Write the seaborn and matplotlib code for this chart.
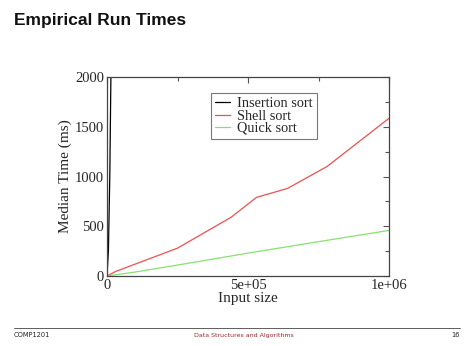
import matplotlib
matplotlib.use("Agg")
import matplotlib.pyplot as plt
from matplotlib.ticker import MultipleLocator, FixedLocator
import numpy as np
import pandas as pd
import seaborn as sns

# Median run times (ms) against input size for three sorting algorithms
insertion_n = [0, 5000, 10000, 15000, 20000]
insertion_ms = [0, 255, 1020, 2300, 4080]

shell_n = [0, 30000, 250000, 440000, 530000, 640000, 780000, 1000000]
shell_ms = [0, 45, 280, 590, 790, 880, 1100, 1585]

quick_n = [0, 100000, 250000, 500000, 750000, 1000000]
quick_ms = [0, 40, 110, 230, 345, 458]

series_names = ["Insertion sort", "Shell sort", "Quick sort"]
series_colors = ["#000000", "#ee5050", "#88e070"]

x_ticks = [0, 500000, 1000000]
x_tick_labels = ["0", "5e+05", "1e+06"]
y_ticks = [0, 500, 1000, 1500, 2000]

frames = []
for name, n, ms in zip(series_names,
                       [insertion_n, shell_n, quick_n],
                       [insertion_ms, shell_ms, quick_ms]):
    frames.append(pd.DataFrame({"n": n, "ms": ms, "algorithm": name}))
data = pd.concat(frames, ignore_index=True)

sns.set_theme(style="white")
plt.rcParams["font.family"] = ["DejaVu Sans"]

fig = plt.figure(figsize=(4.74, 3.46), dpi=100)
ax = fig.add_axes([107 / 474, 1 - 276 / 346, 282 / 474, 199 / 346])

sns.lineplot(data=data, x="n", y="ms", hue="algorithm",
             hue_order=series_names, palette=series_colors,
             linewidth=0.9, ax=ax, legend=False, sort=False,
             estimator=None)

ax.set_xlim(0, 1000000)
ax.set_ylim(0, 2000)
ax.xaxis.set_major_locator(FixedLocator(x_ticks))
ax.set_xticklabels(x_tick_labels)
ax.yaxis.set_major_locator(FixedLocator(y_ticks))
ax.xaxis.set_minor_locator(MultipleLocator(250000))
ax.yaxis.set_minor_locator(MultipleLocator(250))

serif = "Liberation Serif"
for lab in ax.get_xticklabels() + ax.get_yticklabels():
    lab.set_fontfamily(serif)
    lab.set_fontsize(10.5)
ax.tick_params(which="both", direction="in", top=True, right=True,
               color="#555555", width=0.8, pad=2)
ax.tick_params(which="major", length=4)
ax.tick_params(which="minor", length=3)
for sp in ax.spines.values():
    sp.set_color("#444444")
    sp.set_linewidth(0.9)

ax.set_xlabel("Input size", fontfamily=serif, fontsize=11, labelpad=0)
ax.set_ylabel("Median Time (ms)", fontfamily=serif, fontsize=11, labelpad=2)

handles = [plt.Line2D([], [], color=c, linewidth=0.9) for c in series_colors]
leg = ax.legend(handles, series_names, loc="upper left",
                bbox_to_anchor=(0.369, 0.92), borderaxespad=0,
                prop={"family": serif, "size": 10.3}, frameon=True,
                fancybox=False, handlelength=1.0, handletextpad=0.5,
                labelspacing=-0.05, borderpad=0.3)
leg.get_frame().set_edgecolor("#555555")
leg.get_frame().set_linewidth(0.8)

# Slide title and footer
fig.text(14 / 474, 1 - 20 / 346, "Empirical Run Times", fontsize=12.5,
         fontfamily="Liberation Sans", fontweight="bold", va="center",
         ha="left", color="#111111")
fig.add_artist(plt.Line2D([14 / 474, 460 / 474], [1 - 328 / 346, 1 - 328 / 346],
                          color="#444444", linewidth=0.6))
fig.text(14 / 474, 1 - 335 / 346, "COMP1201", fontsize=4.8, va="center",
         ha="left", color="#222222")
fig.text(244 / 474, 1 - 335 / 346, "Data Structures and Algorithms",
         fontsize=4.5, va="center", ha="center", color="#9b2a2a")
fig.text(460 / 474, 1 - 335 / 346, "16", fontsize=4.8, va="center",
         ha="right", color="#222222")

fig.savefig("out.png", dpi=100)
